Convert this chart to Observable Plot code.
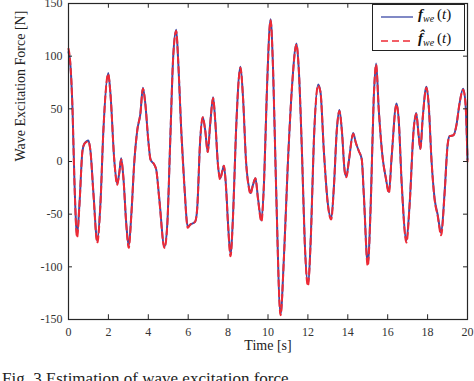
<!DOCTYPE html>
<html>
<head>
<meta charset="utf-8">
<script src="https://cdn.jsdelivr.net/npm/d3@7"></script>
<script src="https://cdn.jsdelivr.net/npm/@observablehq/plot@0.6"></script>
<style>
  html, body { margin: 0; padding: 0; background: #fff; overflow: hidden; }
  #wrap { position: relative; width: 474px; height: 381px; font-family: "Liberation Serif", "Times New Roman", serif; }
  #legend { position: absolute; left: 372px; top: 4px; width: 93px; height: 47px; border: 1px solid #222; background: #fff; box-sizing: border-box; }
  #legend .lab { position: absolute; left: 45px; font-size: 15px; white-space: nowrap; color: #111; }
  #legend i.f { font-weight: bold; font-style: italic; }
  #legend sub { font-style: italic; font-size: 10px; vertical-align: -3px; }
  #caption { position: absolute; left: 2px; top: 369px; font-size: 17px; color: #222; white-space: nowrap; }
</style>
</head>
<body>
<div id="wrap">
  <div id="chart"></div>
  <div id="legend">
    <svg width="93" height="47" style="position:absolute;left:0;top:0">
      <line x1="8" x2="40" y1="12" y2="12" stroke="#3c4aa6" stroke-width="1.3"></line>
      <line x1="8" x2="40" y1="36" y2="36" stroke="#ee2a35" stroke-width="1.3" stroke-dasharray="7,4"></line>
    </svg>
    <div class="lab" style="top:1px"><i class="f">f</i><sub>we</sub>&#8201;(<i>t</i>)</div>
    <div class="lab" style="top:25px"><i class="f">f&#770;</i><sub>we</sub>&#8201;(<i>t</i>)</div>
  </div>
  <div id="caption">Fig. 3 Estimation of wave excitation force</div>
</div>
<script>
const time = [0, 0.08, 0.2, 0.3, 0.43, 0.55, 0.7, 0.8, 1.0, 1.1, 1.25, 1.44, 1.6, 1.75, 1.99, 2.1, 2.3, 2.44, 2.55, 2.64, 2.75, 2.9, 3.02, 3.15, 3.3, 3.45, 3.6, 3.73, 3.85, 4.0, 4.11, 4.3, 4.4, 4.55, 4.81, 4.95, 5.1, 5.25, 5.4, 5.5, 5.65, 5.8, 5.98, 6.1, 6.35, 6.45, 6.6, 6.73, 6.85, 6.98, 7.1, 7.25, 7.35, 7.5, 7.6, 7.7, 7.79, 7.9, 8.0, 8.12, 8.25, 8.4, 8.62, 8.75, 8.9, 9.05, 9.12, 9.25, 9.37, 9.5, 9.67, 9.8, 9.95, 10.13, 10.25, 10.4, 10.63, 10.8, 11.0, 11.2, 11.43, 11.55, 11.7, 11.85, 12.0, 12.15, 12.3, 12.51, 12.63, 12.8, 13.0, 13.17, 13.3, 13.45, 13.58, 13.7, 13.85, 13.93, 14.05, 14.27, 14.4, 14.55, 14.7, 14.8, 15.0, 15.15, 15.3, 15.42, 15.55, 15.75, 15.9, 16.06, 16.2, 16.44, 16.55, 16.7, 16.94, 17.1, 17.3, 17.43, 17.55, 17.64, 17.75, 17.94, 18.05, 18.2, 18.35, 18.5, 18.68, 18.85, 19.0, 19.1, 19.3, 19.45, 19.6, 19.78, 19.9, 20.0];
const force = [104, 95, 50, -20, -70, -40, 10, 17, 20, 10, -30, -75, -40, 30, 84, 65, 0, -21, -10, 3, -15, -60, -80, -50, 0, 30, 45, 70, 55, 20, 2, -3, -8, -35, -81, -60, 20, 100, 125, 95, 30, -20, -62, -60, -57, -45, 20, 42, 30, 9, 35, 61, 40, -5, -16, -10, -4, -25, -60, -88, -50, 30, 90, 60, 0, -25, -30, -22, -16, -35, -56, -20, 70, 135, 90, -20, -145, -90, 0, 70, 112, 85, 10, -80, -116, -70, 20, 73, 66, 10, -40, -54, -25, 30, 49, 30, -10, -14, 0, 27, 18, 10, 2, -30, -97, -40, 60, 93, 50, 3, -15, -29, 5, 55, 40, -20, -75, -40, 30, 46, 25, 12, 40, 71, 55, 0, -35, -50, -68, -30, 15, 24, 25, 35, 55, 69, 55, 2];
const estimate = [107, 96, 50, -21, -72, -41, 10, 17, 19, 10, -31, -77, -41, 30, 83, 65, 0, -22, -10, 2, -15, -61, -82, -51, 0, 30, 45, 69, 55, 20, 2, -3, -8, -36, -82, -61, 20, 100, 124, 95, 30, -21, -63, -60, -57, -45, 20, 42, 30, 9, 35, 60, 40, -5, -17, -10, -4, -26, -61, -90, -51, 30, 89, 60, 0, -26, -31, -22, -16, -36, -57, -20, 70, 134, 90, -21, -146, -91, 0, 70, 111, 85, 10, -81, -118, -71, 20, 72, 66, 10, -41, -55, -25, 30, 48, 30, -10, -15, 0, 26, 18, 10, 2, -31, -99, -41, 60, 92, 50, 3, -15, -30, 5, 54, 40, -21, -77, -41, 30, 45, 25, 12, 40, 70, 55, 0, -36, -51, -70, -31, 15, 24, 25, 35, 55, 68, 55, 0];
const xTicks = [0, 2, 4, 6, 8, 10, 12, 14, 16, 18, 20];
const yTicks = [-150, -100, -50, 0, 50, 100, 150];
const xLabel = "Time [s]";
const yLabel = "Wave Excitation Force [N]";

const rows = time.map((t, i) => ({t, f: force[i], e: estimate[i]}));
const axisColor = "#262626";
const tickLenX = 0.2;   // inward tick length, seconds
const tickLenY = 4.5;   // inward tick length, N

const chart = Plot.plot({
  width: 474,
  height: 360,
  marginLeft: 68,
  marginRight: 7,
  marginTop: 3,
  marginBottom: 41,
  style: {fontFamily: "'Liberation Serif', 'Times New Roman', serif", background: "#fff"},
  x: {domain: [0, 20], label: null},
  y: {domain: [-150, 150], label: null},
  marks: [
    Plot.line(rows, {x: "t", y: "f", stroke: "#3c4aa6", strokeWidth: 2, curve: "monotone-x"}),
    Plot.line(rows, {x: "t", y: "e", stroke: "#ee2a35", strokeWidth: 2, strokeDasharray: "6,4", curve: "monotone-x"}),
    Plot.ruleX(xTicks, {x: d => d, y1: -150, y2: -150 + tickLenY, stroke: axisColor}),
    Plot.ruleX(xTicks, {x: d => d, y1: 150, y2: 150 - tickLenY, stroke: axisColor}),
    Plot.ruleY(yTicks, {y: d => d, x1: 0, x2: tickLenX, stroke: axisColor}),
    Plot.ruleY(yTicks, {y: d => d, x1: 20, x2: 20 - tickLenX, stroke: axisColor}),
    Plot.frame({stroke: axisColor, strokeWidth: 1.2}),
    Plot.axisX({ticks: xTicks, tickSize: 0, tickPadding: 8, fontSize: 12, color: "#333", tickFormat: d => String(d), label: null}),
    Plot.axisY({ticks: yTicks, tickSize: 0, tickPadding: 6, fontSize: 12, color: "#333", tickFormat: d => String(d), label: null}),
    Plot.text([xLabel], {text: d => d, frameAnchor: "bottom", dy: 30, fontSize: 14, fill: "#222"}),
    Plot.text([yLabel], {text: d => d, frameAnchor: "left", rotate: -90, dx: -48, fontSize: 14, fill: "#222"})
  ]
});
document.getElementById("chart").appendChild(chart);
</script>
</body>
</html>
